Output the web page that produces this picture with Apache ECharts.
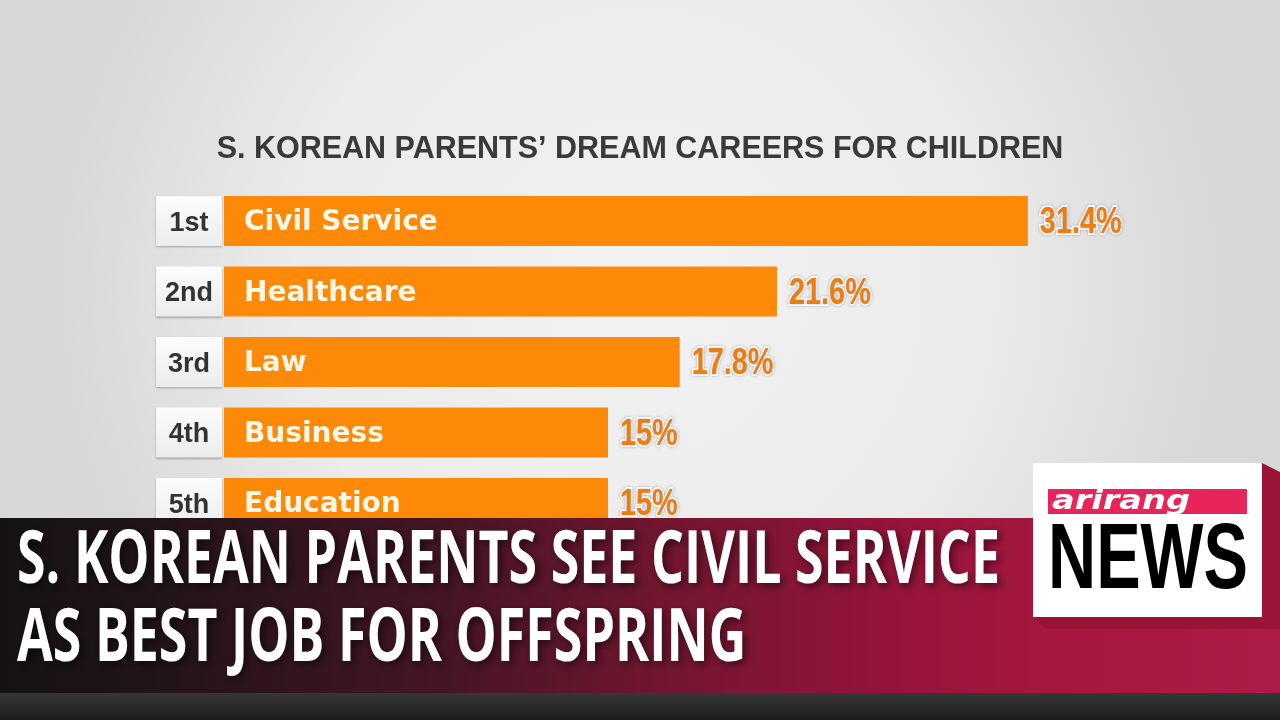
<!DOCTYPE html>
<html>
<head>
<meta charset="utf-8">
<script src="https://cdn.jsdelivr.net/npm/echarts@6/dist/echarts.min.js"></script>
<style>
html,body{margin:0;padding:0;background:#e8e8e8;}
#main{width:1280px;height:720px;}
</style>
</head>
<body>
<div id="main"></div>
<script>
// ---- data ----
const ranks = ['1st', '2nd', '3rd', '4th', '5th'];
const careers = ['Civil Service', 'Healthcare', 'Law', 'Business', 'Education'];
const shares = [31.4, 21.6, 17.8, 15, 15];
const chartTitle = 'S. KOREAN PARENTS\u2019 DREAM CAREERS FOR CHILDREN';
const headline = ['S. KOREAN PARENTS SEE CIVIL SERVICE', 'AS BEST JOB FOR OFFSPRING'];

const ctx = document.createElement('canvas').getContext('2d');
function measure(text, font) { ctx.font = font; return ctx.measureText(text).width; }

const headFont = '700 73px "Open Sans"';
const headScale = 983 / measure(headline[0], headFont);
const newsFont = '700 92px "Liberation Sans"';
const newsScale = 200 / measure('NEWS', newsFont);
const ariFont = 'italic 700 26px "DejaVu Sans"';
const ariScale = 138 / measure('arirang', ariFont);
const valueFont = 'bold 37px "Liberation Sans"';

const chart = echarts.init(document.getElementById('main'));
const option = {
  backgroundColor: 'transparent',
  animation: false,
  title: {
    text: chartTitle,
    left: 'center',
    top: 129,
    textStyle: { fontFamily: 'Liberation Sans', fontWeight: 'bold', fontSize: 30.5, color: '#3a3a3a' }
  },
  grid: { left: 224, right: 32, top: 185.75, height: 352.5, outerBoundsMode: 'none' },
  xAxis: { type: 'value', min: 0, max: 40, show: false },
  yAxis: {
    type: 'category',
    inverse: true,
    data: ranks,
    axisLine: { show: false },
    axisTick: { show: false },
    splitLine: { show: false },
    axisLabel: {
      margin: 2,
      formatter: function (v) { return '{r|' + v + '}'; },
      rich: {
        r: {
          width: 66,
          height: 45,
          lineHeight: 45,
          padding: [5, 0, 0, 0],
          align: 'center',
          backgroundColor: {
            type: 'linear', x: 0, y: 0, x2: 0, y2: 1,
            colorStops: [{ offset: 0, color: '#fcfcfc' }, { offset: 1, color: '#ececec' }]
          },
          shadowColor: 'rgba(0,0,0,0.28)',
          shadowBlur: 2,
          shadowOffsetY: 1,
          fontFamily: 'Liberation Sans',
          fontWeight: 'bold',
          fontSize: 27,
          color: '#333333'
        }
      }
    }
  },
  series: [
    {
      type: 'bar',
      data: shares,
      barWidth: 50,
      barGap: '-100%',
      itemStyle: { color: '#fc8a08' },
      label: {
        show: true,
        position: 'insideLeft',
        distance: 20,
        offset: [0, 2],
        formatter: function (p) { return careers[p.dataIndex]; },
        fontFamily: 'DejaVu Sans',
        fontWeight: 'bold',
        fontSize: 28,
        color: '#fff6e6'
      },
      z: 3
    },
    {
      type: 'custom',
      data: shares.map(function (v, i) { return [v, i]; }),
      encode: { x: 0, y: 1 },
      z: 4,
      renderItem: function (params, api) {
        const p = api.coord([api.value(0), api.value(1)]);
        return {
          type: 'text',
          x: p[0] + 12,
          y: p[1] + 2,
          scaleX: 0.78,
          style: {
            text: shares[params.dataIndex] + '%',
            font: valueFont,
            fill: '#e97d16',
            stroke: '#ffffff',
            lineWidth: 4,
            textAlign: 'left',
            textVerticalAlign: 'middle',
            textShadowColor: 'rgba(0,0,0,0.25)',
            textShadowBlur: 3
          }
        };
      }
    }
  ],
  graphic: [
    {
      type: 'rect', z: -100, silent: true,
      shape: { x: 0, y: 0, width: 1280, height: 720 },
      style: {
        fill: {
          type: 'radial', x: 0.5, y: 0.4, r: 0.8,
          colorStops: [{ offset: 0, color: '#f2f2f2' }, { offset: 0.6, color: '#ebebeb' }, { offset: 1, color: '#d8d8d8' }]
        }
      }
    },
    // headline banner
    {
      type: 'rect', z: 100, silent: true,
      shape: { x: 0, y: 518, width: 1280, height: 176 },
      style: {
        fill: {
          type: 'linear', x: 0, y: 0, x2: 1, y2: 0,
          colorStops: [
            { offset: 0, color: '#161214' },
            { offset: 0.12, color: '#211418' },
            { offset: 0.35, color: '#461524' },
            { offset: 0.52, color: '#72162f' },
            { offset: 0.7, color: '#96143a' },
            { offset: 0.82, color: '#a5173f' },
            { offset: 1, color: '#ab1d46' }
          ]
        }
      }
    },
    {
      type: 'rect', z: 100, silent: true,
      shape: { x: 0, y: 693, width: 1280, height: 27 },
      style: {
        fill: {
          type: 'linear', x: 0, y: 0, x2: 0, y2: 1,
          colorStops: [{ offset: 0, color: '#363636' }, { offset: 1, color: '#1e1e1e' }]
        }
      }
    },
    {
      type: 'text', z: 101, silent: true,
      x: 17, y: 599, scaleX: headScale,
      style: {
        text: headline[0], font: headFont, fill: '#ffffff',
        textAlign: 'left', textVerticalAlign: 'bottom',
        textShadowColor: 'rgba(0,0,0,0.55)', textShadowBlur: 8, textShadowOffsetX: 3, textShadowOffsetY: 3
      }
    },
    {
      type: 'text', z: 101, silent: true,
      x: 17, y: 677, scaleX: headScale,
      style: {
        text: headline[1], font: headFont, fill: '#ffffff',
        textAlign: 'left', textVerticalAlign: 'bottom',
        textShadowColor: 'rgba(0,0,0,0.55)', textShadowBlur: 8, textShadowOffsetX: 3, textShadowOffsetY: 3
      }
    },
    // arirang news logo
    {
      type: 'polygon', z: 102, silent: true,
      shape: { points: [[1262, 463], [1280, 472], [1280, 629], [1046, 629], [1033, 617], [1262, 617]] },
      style: { fill: '#9a1437' }
    },
    {
      type: 'rect', z: 103, silent: true,
      shape: { x: 1033, y: 463, width: 229, height: 154 },
      style: { fill: '#ffffff' }
    },
    {
      type: 'rect', z: 104, silent: true,
      shape: { x: 1048, y: 489, width: 199, height: 25 },
      style: { fill: '#e8255a' }
    },
    {
      type: 'text', z: 105, silent: true,
      x: 1052, y: 502, scaleX: ariScale,
      style: { text: 'arirang', font: ariFont, fill: '#ffffff', textAlign: 'left', textVerticalAlign: 'middle' }
    },
    {
      type: 'text', z: 105, silent: true,
      x: 1048, y: 563, scaleX: newsScale,
      style: { text: 'NEWS', font: newsFont, fill: '#000000', textAlign: 'left', textVerticalAlign: 'middle' }
    }
  ]
};
chart.setOption(option);
</script>
</body>
</html>
